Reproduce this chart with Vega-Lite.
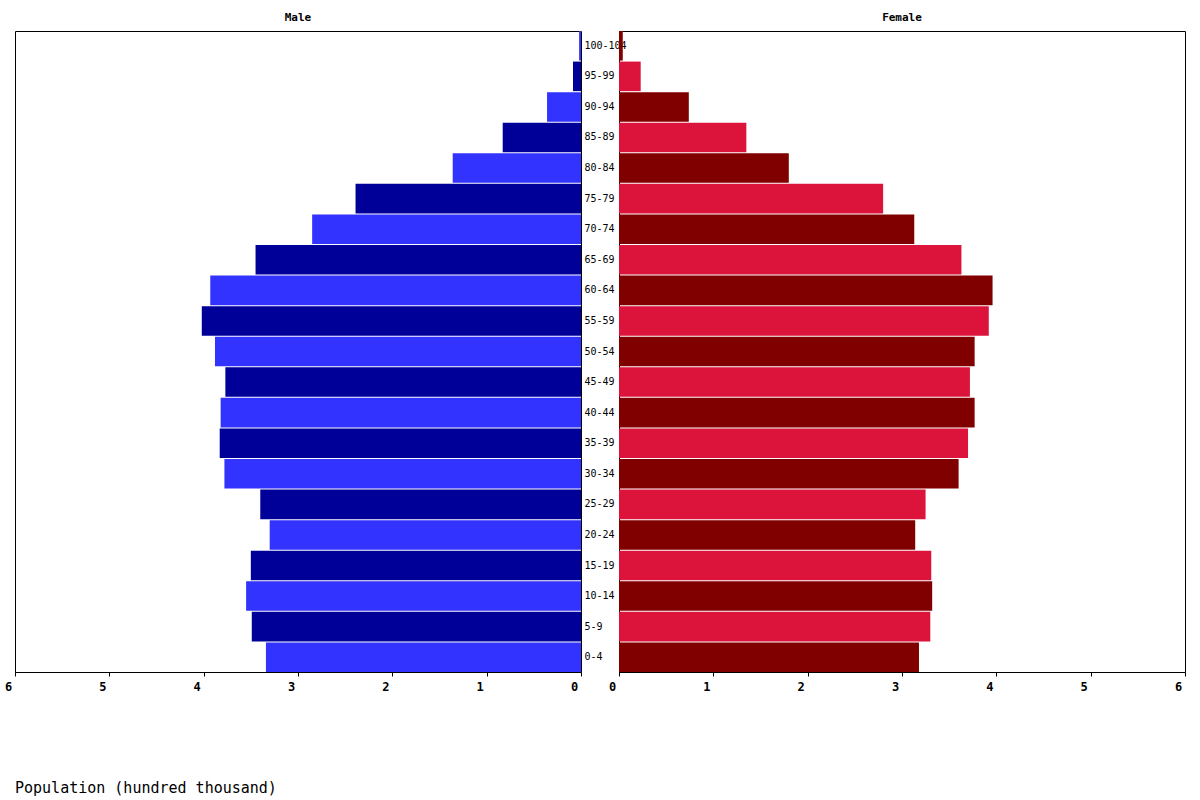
{
  "$schema": "https://vega.github.io/schema/vega-lite/v6.json",
  "padding": {"left": 3, "top": 11, "right": 5, "bottom": 5},
  "background": "white",
  "data": {
    "values": [
      {"age": "0-4", "ord": 0, "sex": "Male", "v": 3.34, "shade": "M1"},
      {"age": "5-9", "ord": 1, "sex": "Male", "v": 3.49, "shade": "M2"},
      {"age": "10-14", "ord": 2, "sex": "Male", "v": 3.55, "shade": "M1"},
      {"age": "15-19", "ord": 3, "sex": "Male", "v": 3.50, "shade": "M2"},
      {"age": "20-24", "ord": 4, "sex": "Male", "v": 3.30, "shade": "M1"},
      {"age": "25-29", "ord": 5, "sex": "Male", "v": 3.40, "shade": "M2"},
      {"age": "30-34", "ord": 6, "sex": "Male", "v": 3.78, "shade": "M1"},
      {"age": "35-39", "ord": 7, "sex": "Male", "v": 3.83, "shade": "M2"},
      {"age": "40-44", "ord": 8, "sex": "Male", "v": 3.82, "shade": "M1"},
      {"age": "45-49", "ord": 9, "sex": "Male", "v": 3.77, "shade": "M2"},
      {"age": "50-54", "ord": 10, "sex": "Male", "v": 3.88, "shade": "M1"},
      {"age": "55-59", "ord": 11, "sex": "Male", "v": 4.02, "shade": "M2"},
      {"age": "60-64", "ord": 12, "sex": "Male", "v": 3.93, "shade": "M1"},
      {"age": "65-69", "ord": 13, "sex": "Male", "v": 3.45, "shade": "M2"},
      {"age": "70-74", "ord": 14, "sex": "Male", "v": 2.85, "shade": "M1"},
      {"age": "75-79", "ord": 15, "sex": "Male", "v": 2.39, "shade": "M2"},
      {"age": "80-84", "ord": 16, "sex": "Male", "v": 1.36, "shade": "M1"},
      {"age": "85-89", "ord": 17, "sex": "Male", "v": 0.83, "shade": "M2"},
      {"age": "90-94", "ord": 18, "sex": "Male", "v": 0.36, "shade": "M1"},
      {"age": "95-99", "ord": 19, "sex": "Male", "v": 0.085, "shade": "M2"},
      {"age": "100-104", "ord": 20, "sex": "Male", "v": 0.02, "shade": "M1"},
      {"age": "0-4", "ord": 0, "sex": "Female", "v": 3.18, "shade": "F1"},
      {"age": "5-9", "ord": 1, "sex": "Female", "v": 3.30, "shade": "F2"},
      {"age": "10-14", "ord": 2, "sex": "Female", "v": 3.32, "shade": "F1"},
      {"age": "15-19", "ord": 3, "sex": "Female", "v": 3.31, "shade": "F2"},
      {"age": "20-24", "ord": 4, "sex": "Female", "v": 3.14, "shade": "F1"},
      {"age": "25-29", "ord": 5, "sex": "Female", "v": 3.25, "shade": "F2"},
      {"age": "30-34", "ord": 6, "sex": "Female", "v": 3.60, "shade": "F1"},
      {"age": "35-39", "ord": 7, "sex": "Female", "v": 3.70, "shade": "F2"},
      {"age": "40-44", "ord": 8, "sex": "Female", "v": 3.77, "shade": "F1"},
      {"age": "45-49", "ord": 9, "sex": "Female", "v": 3.72, "shade": "F2"},
      {"age": "50-54", "ord": 10, "sex": "Female", "v": 3.77, "shade": "F1"},
      {"age": "55-59", "ord": 11, "sex": "Female", "v": 3.92, "shade": "F2"},
      {"age": "60-64", "ord": 12, "sex": "Female", "v": 3.96, "shade": "F1"},
      {"age": "65-69", "ord": 13, "sex": "Female", "v": 3.63, "shade": "F2"},
      {"age": "70-74", "ord": 14, "sex": "Female", "v": 3.13, "shade": "F1"},
      {"age": "75-79", "ord": 15, "sex": "Female", "v": 2.80, "shade": "F2"},
      {"age": "80-84", "ord": 16, "sex": "Female", "v": 1.80, "shade": "F1"},
      {"age": "85-89", "ord": 17, "sex": "Female", "v": 1.35, "shade": "F2"},
      {"age": "90-94", "ord": 18, "sex": "Female", "v": 0.74, "shade": "F1"},
      {"age": "95-99", "ord": 19, "sex": "Female", "v": 0.23, "shade": "F2"},
      {"age": "100-104", "ord": 20, "sex": "Female", "v": 0.04, "shade": "F1"}
    ]
  },
  "title": {
    "text": "Population (hundred thousand)",
    "orient": "bottom",
    "anchor": "start",
    "frame": "group",
    "offset": 88,
    "fontSize": 15,
    "fontWeight": "normal",
    "font": "DejaVu Sans Mono",
    "color": "black"
  },
  "spacing": 38,
  "bounds": "flush",
  "hconcat": [
    {
      "width": 566,
      "height": 641,
      "title": {"text": "Male", "fontSize": 11, "fontWeight": "bold", "font": "DejaVu Sans Mono", "offset": 8, "color": "black"},
      "transform": [{"filter": "datum.sex === 'Male'"}],
      "mark": {"type": "bar"},
      "encoding": {
        "y": {
          "field": "age",
          "type": "nominal",
          "sort": {"field": "ord", "order": "descending"},
          "scale": {"paddingInner": 0.033, "paddingOuter": 0},
          "axis": {"orient": "right", "title": null, "ticks": false, "domain": false, "labelFontSize": 10, "labelFont": "DejaVu Sans Mono", "labelPadding": 3, "labelColor": "black"}
        },
        "x": {
          "field": "v",
          "type": "quantitative",
          "scale": {"domain": [0, 6], "reverse": true, "nice": false},
          "axis": {"title": null, "values": [0, 1, 2, 3, 4, 5, 6], "format": "d", "grid": false, "labelFlush": false, "labelFontSize": 12, "labelFontWeight": "bold", "labelFont": "DejaVu Sans Mono", "labelOffset": -7, "labelPadding": 5, "tickSize": 4, "domainColor": "black", "tickColor": "black", "labelColor": "black"}
        },
        "color": {
          "field": "shade",
          "type": "nominal",
          "scale": {"domain": ["M1", "M2", "F1", "F2"], "range": ["#3333FF", "#000099", "#800000", "#DC143C"]},
          "legend": null
        }
      }
    },
    {
      "width": 566,
      "height": 641,
      "title": {"text": "Female", "fontSize": 11, "fontWeight": "bold", "font": "DejaVu Sans Mono", "offset": 8, "color": "black"},
      "transform": [{"filter": "datum.sex === 'Female'"}],
      "mark": {"type": "bar"},
      "encoding": {
        "y": {
          "field": "age",
          "type": "nominal",
          "sort": {"field": "ord", "order": "descending"},
          "scale": {"paddingInner": 0.033, "paddingOuter": 0},
          "axis": null
        },
        "x": {
          "field": "v",
          "type": "quantitative",
          "scale": {"domain": [0, 6], "nice": false},
          "axis": {"title": null, "values": [0, 1, 2, 3, 4, 5, 6], "format": "d", "grid": false, "labelFlush": false, "labelFontSize": 12, "labelFontWeight": "bold", "labelFont": "DejaVu Sans Mono", "labelOffset": -7, "labelPadding": 5, "tickSize": 4, "domainColor": "black", "tickColor": "black", "labelColor": "black"}
        },
        "color": {
          "field": "shade",
          "type": "nominal",
          "scale": {"domain": ["M1", "M2", "F1", "F2"], "range": ["#3333FF", "#000099", "#800000", "#DC143C"]},
          "legend": null
        }
      }
    }
  ],
  "config": {
    "view": {"stroke": "black", "strokeWidth": 1},
    "axis": {"domainColor": "black"}
  }
}
